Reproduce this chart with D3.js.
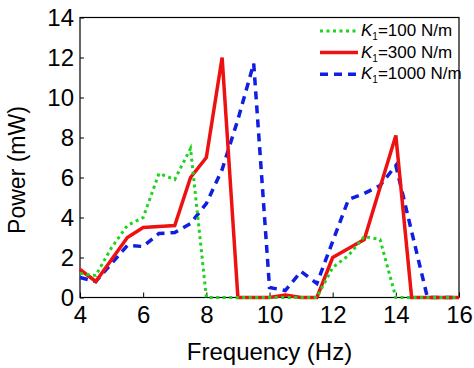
<!DOCTYPE html>
<html>
<head>
<meta charset="utf-8">
<script src="https://cdn.jsdelivr.net/npm/d3@7"></script>
<style>
body { margin: 0; background: #fff; }
</style>
</head>
<body>
<div id="chart"></div>
<script>
// frequency steps (Hz)
var freq = [4, 4.5, 5, 5.5, 6, 6.5, 7, 7.5, 8, 8.5, 9, 9.5, 10, 10.5, 11, 11.5, 12, 12.5, 13, 13.5, 14, 14.5, 15, 15.5, 16];

// power (mW) for each stiffness
var k100 = [1.2, 1.1, 2.5, 3.6, 4.0, 6.2, 5.9, 7.45, 0, 0, 0, 0, 0, 0, 0, 0, 1.5, 2.1, 3.05, 2.9, 0, 0, 0, 0, 0];
var k300 = [1.4, 0.8, 1.9, 3.0, 3.5, 3.55, 3.6, 6.0, 7.0, 12.0, 0, 0, 0, 0.12, 0, 0, 2.0, 2.45, 2.9, 5.5, 8.1, 0, 0, 0, 0];
var k1000 = [1.0, 0.8, 1.7, 2.6, 2.55, 3.2, 3.25, 3.7, 4.7, 6.4, 8.9, 11.7, 0.5, 0.35, 1.3, 0.7, 2.8, 4.9, 5.2, 5.6, 6.6, 3.3, 0, 0, 0];

var legendValues = ['100', '300', '1000'];
var xTicks = [4, 6, 8, 10, 12, 14, 16];
var yTicks = [0, 2, 4, 6, 8, 10, 12, 14];

var fullWidth = 474;
var fullHeight = 368;
var mainFont = 'Arial, "Liberation Sans", Helvetica, sans-serif';

var green = '#1ed41e';
var red = '#ee1111';
var blue = '#0f1ee0';

window.onload = function() {
    render();
};

function render() {
    var svg = d3.select('#chart').append('svg')
        .attr('width', fullWidth)
        .attr('height', fullHeight);

    var x = d3.scaleLinear().domain([4, 16]).range([80, 459]);
    var y = d3.scaleLinear().domain([0, 14]).range([297.5, 17.5]);

    // bottom axis, ticks pointing inward
    var xAxis = svg.append('g')
        .attr('transform', 'translate(0,' + y(0) + ')')
        .call(d3.axisBottom(x).tickValues(xTicks).tickSizeInner(-5).tickSizeOuter(0).tickPadding(8));
    xAxis.select('.domain').remove();
    xAxis.selectAll('text')
        .style('font-family', mainFont)
        .style('font-size', '24px')
        .style('fill', '#000');
    xAxis.selectAll('line').attr('stroke', '#000');

    // left axis
    var yAxis = svg.append('g')
        .attr('transform', 'translate(' + x(4) + ',0)')
        .call(d3.axisLeft(y).tickValues(yTicks).tickSizeInner(-4).tickSizeOuter(0).tickPadding(6));
    yAxis.select('.domain').remove();
    yAxis.selectAll('text')
        .style('font-family', mainFont)
        .style('font-size', '24px')
        .style('fill', '#000');
    yAxis.selectAll('line').attr('stroke', '#000');

    // box around the plot
    svg.append('rect')
        .attr('x', x(4))
        .attr('y', y(14))
        .attr('width', x(16) - x(4))
        .attr('height', y(0) - y(14))
        .attr('fill', 'none')
        .attr('stroke', '#000')
        .attr('stroke-width', 1.2);

    var line = d3.line()
        .x(function(d, i) { return x(freq[i]); })
        .y(function(d) { return y(d); });

    drawSeries(svg, line, k1000, blue, 3.5, '8,6');
    drawSeries(svg, line, k300, red, 3.5, null);
    drawSeries(svg, line, k100, green, 3, '3,3.5');

    // axis titles
    svg.append('text')
        .attr('x', (x(4) + x(16)) / 2)
        .attr('y', 360)
        .style('text-anchor', 'middle')
        .style('font-family', mainFont)
        .style('font-size', '24px')
        .text('Frequency (Hz)');

    svg.append('text')
        .attr('transform', 'translate(25,170) rotate(-90)')
        .style('text-anchor', 'middle')
        .style('font-family', mainFont)
        .style('font-size', '23px')
        .text('Power (mW)');

    makeLegend(svg);
}

function drawSeries(svg, line, values, color, width, dash) {
    var path = svg.append('path')
        .attr('d', line(values))
        .attr('fill', 'none')
        .attr('stroke', color)
        .attr('stroke-width', width)
        .attr('stroke-linejoin', 'miter');
    if (dash) {
        path.attr('stroke-dasharray', dash);
    }
}

function makeLegend(svg) {
    var colors = [green, red, blue];
    var dashes = ['3,3.5', null, '8,6'];
    var widths = [3, 3.5, 3.5];
    var baseY = 36;
    var rowGap = 21.6;

    for (var i = 0; i < legendValues.length; i++) {
        var rowY = baseY + i * rowGap;

        var sample = svg.append('line')
            .attr('x1', 320)
            .attr('x2', 358)
            .attr('y1', rowY - 5)
            .attr('y2', rowY - 5)
            .attr('stroke', colors[i])
            .attr('stroke-width', widths[i]);
        if (dashes[i]) {
            sample.attr('stroke-dasharray', dashes[i]);
        }

        var label = svg.append('text')
            .attr('x', 361)
            .attr('y', rowY)
            .style('font-family', mainFont)
            .style('font-size', '17px')
            .style('fill', '#000');
        label.append('tspan')
            .style('font-style', 'italic')
            .text('K');
        label.append('tspan')
            .attr('dy', 4)
            .style('font-size', '10px')
            .text('1');
        label.append('tspan')
            .attr('dy', -4)
            .text('=' + legendValues[i] + ' N/m');
    }
}
</script>
</body>
</html>
